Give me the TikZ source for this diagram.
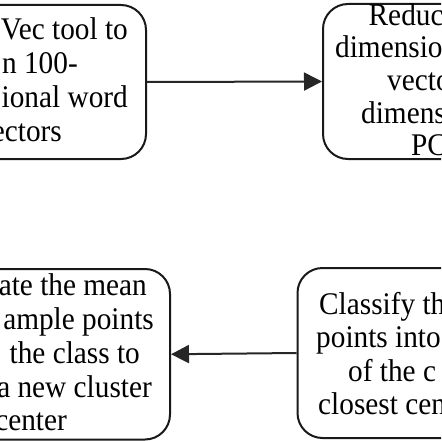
\documentclass[tikz,border=0pt]{standalone}
\usepackage{fontspec}
\setmainfont{Liberation Serif}[FakeStretch=0.93]
\usetikzlibrary{arrows.meta}
\begin{document}
\begin{tikzpicture}[x=1pt,y=-1pt,
  box/.style={draw=black!90, line width=2pt, rounded corners=25pt, rectangle, inner sep=0pt},
  txt/.style={inner sep=0pt, font=\fontsize{31.5}{36}\selectfont, text=black},
  link/.style={draw=black!85, line width=2pt, -{Triangle[length=18pt,width=18pt]}}]
\useasboundingbox (0,0) rectangle (441,441);
\clip (0,0) rectangle (441,441);
% boxes
\node[box, minimum width=316pt, minimum height=154pt] (b1) at (-12,82) {};
\node[box, minimum width=317pt, minimum height=155pt] (b2) at (481.5,81.5) {};
\node[box, minimum width=320pt, minimum height=170.5pt] (b3) at (10,354.25) {};
\node[box, minimum width=322.5pt, minimum height=170pt] (b4) at (458.75,353) {};
% box 1 text
\node[txt, anchor=base east] (t11) at (128,40) {Vec tool to};
\node[txt, anchor=base east] (t12) at (78,73.5) {n 100-};
\node[txt, anchor=base east] (t13) at (128,107.5) {ional word};
\node[txt, anchor=base east] (t14) at (62,141) {ectors};
% box 2 text
\node[txt, anchor=base west] (t21) at (368.5,25.5) {Reduc};
\node[txt, anchor=base west] (t22) at (335,58) {dimensio};
\node[txt, anchor=base west] (t23) at (387,90.5) {vecto};
\node[txt, anchor=base west] (t24) at (361,123) {dimensi};
\node[txt, anchor=base west] (t25) at (411,155) {PC};
% box 3 text
\node[txt, anchor=base east] (t31) at (147,295) {ate the mean};
\node[txt, anchor=base east] (t32) at (154,329) {ample points};
\node[txt, anchor=base east] (t33) at (140,363) {the class to};
\node[txt, anchor=base east] (t34) at (152,397) {a new cluster};
\node[txt, anchor=base east] (t35) at (67,430) {center};
% box 4 text
\node[txt, anchor=base west] (t41) at (319,314) {Classify th};
\node[txt, anchor=base west] (t42) at (316,347) {points into};
\node[txt, anchor=base west] (t43) at (348,381) {of the c};
\node[txt, anchor=base west] (t44) at (318,414) {closest cen};
% connectors
\draw[link] (b1.east) -- (b2.west);
\draw[link] (b4.west) -- (b3.east);
\end{tikzpicture}
\end{document}
